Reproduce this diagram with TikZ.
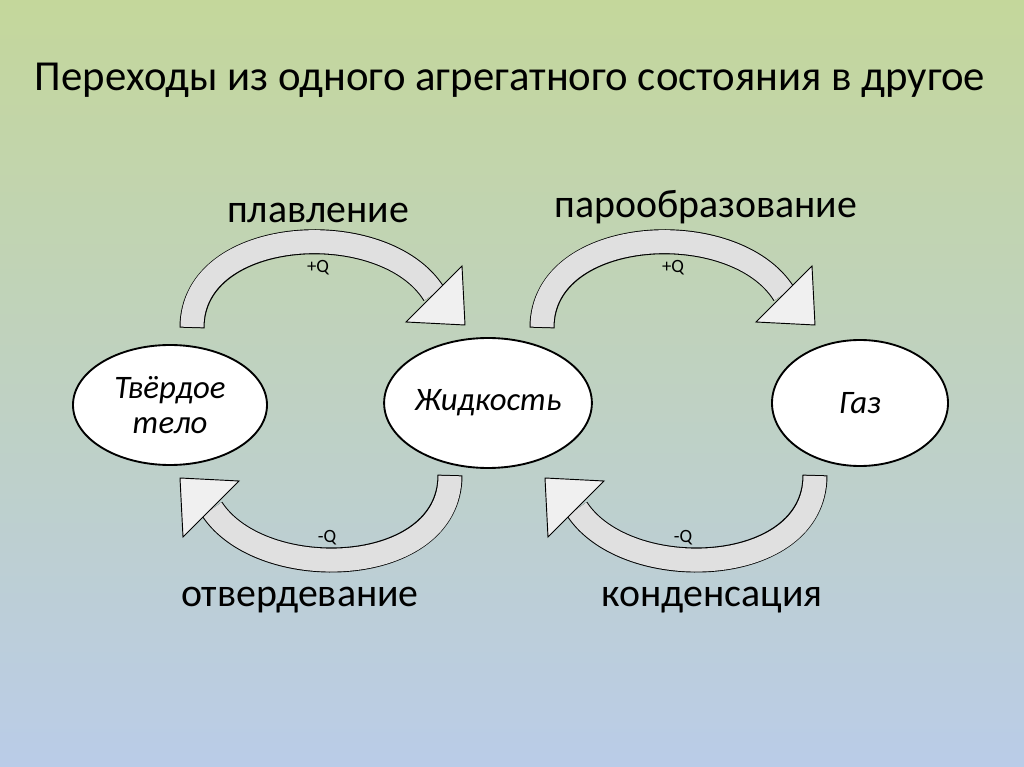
\documentclass[tikz,border=0pt]{standalone}
\usepackage{fontspec}
\setmainfont{Carlito}
\usetikzlibrary{shapes.geometric}
\begin{document}
\begin{tikzpicture}[x=0.03cm,y=-0.03cm,
    state node/.style={ellipse,draw=black,line width=1.6pt,fill=white,inner sep=0pt,align=center,font=\fontsize{28}{30}\selectfont\itshape},
    big label/.style={font=\fontsize{34}{36}\selectfont},
    heat label/.style={font=\fontsize{16}{18}\selectfont},
    shaft out/.style={line width=0.75cm,black},
    shaft in/.style={line width=0.69cm,black!12},
    head/.style={draw=black,line width=0.8pt,fill=black!6,line join=miter}]
  \shade[top color={rgb,255:red,196;green,215;blue,155},bottom color={rgb,255:red,186;green,204;blue,232}] (0,0) rectangle (1024,767);
  \useasboundingbox (0,0) rectangle (1024,767);
  \node[font=\fontsize{36.5}{38}\selectfont] (title) at (510,80) {Переходы из одного агрегатного состояния в другое};
  % states
  \node[state node,minimum width=5.82cm,minimum height=3.6cm] (solid) at (170,405) {Твёрдое\\тело};
  \node[state node,minimum width=5.82cm,minimum height=3.9cm] (liquid) at (488,403) {Жидкость};
  \node[state node,minimum width=5.28cm,minimum height=3.78cm] (gas) at (860,403) {Газ};
  % block arrows: heating
  \foreach \dx in {0,350}{
    \begin{scope}[xshift=\dx*0.03cm]
      \draw[shaft out] (192,328) .. controls (192,225) and (385,215) .. (434,294);
      \draw[shaft in] (192,327) .. controls (192,225) and (385,215) .. (434,294);
      \draw[head] (462,266) -- (465,325) -- (406,322) -- cycle;
    \end{scope}
  }
  % block arrows: cooling
  \foreach \dx in {0,365}{
    \begin{scope}[xshift=\dx*0.03cm]
      \draw[shaft out] (450,475) .. controls (450,578) and (262,585) .. (212,509);
      \draw[shaft in] (450,476) .. controls (450,578) and (262,585) .. (212,509);
      \draw[head] (183,537) -- (180,478) -- (239,481) -- cycle;
    \end{scope}
  }
  \node[big label] (melt) at (318,213) {плавление};
  \node[big label] (boil) at (706,207) {парообразование};
  \node[big label] (freeze) at (300,600) {отвердевание};
  \node[big label] (cond) at (712,600) {конденсация};
  \node[heat label] (q1) at (318,268) {+Q};
  \node[heat label] (q2) at (673,268) {+Q};
  \node[heat label] (q3) at (327,538) {-Q};
  \node[heat label] (q4) at (683,538) {-Q};
\end{tikzpicture}
\end{document}
